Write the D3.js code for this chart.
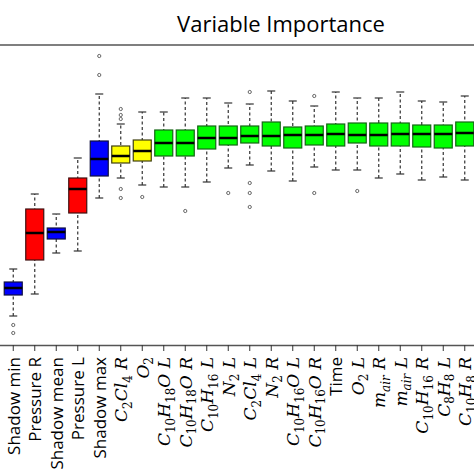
<!DOCTYPE html>
<html>
<head>
<meta charset="utf-8">
<script src="https://cdn.jsdelivr.net/npm/d3@7"></script>
<style>
  body { margin: 0; background: #fff; }
  .sans { font-family: "Open Sans", "Liberation Sans", sans-serif; }
  .math { font-family: "DejaVu Serif", "Liberation Serif", serif; font-style: italic; }
</style>
</head>
<body>
<svg id="chart" width="474" height="474"></svg>
<script>
// labels: "_x" or "_{xx}" marks a subscript; "$" prefix means math style
const labels = ["Shadow min", "Pressure R", "Shadow mean", "Pressure L", "Shadow max",
  "$C_2Cl_4 R", "$O_2", "$C_{10}H_{18}O L", "$C_{10}H_{18}O R", "$C_{10}H_{16} L",
  "$N_2 L", "$C_2Cl_4 L", "$N_2 R", "$C_{10}H_{16}O L", "$C_{10}H_{16}O R", "Time",
  "$O_2 L", "$m_{air} R", "$m_{air} L", "$C_{10}H_{16} R", "$C_8H_8 L", "$C_{10}H_8 R"];
const groups = ["shadow", "rejected", "shadow", "rejected", "shadow", "tentative", "tentative",
  "confirmed", "confirmed", "confirmed", "confirmed", "confirmed", "confirmed", "confirmed",
  "confirmed", "confirmed", "confirmed", "confirmed", "confirmed", "confirmed", "confirmed", "confirmed"];
// [lower whisker, q1, median, q3, upper whisker]
const stats = [
  [2.9, 5.0, 5.7, 6.3, 7.6], [5.1, 8.5, 11.2, 13.6, 15.1], [9.2, 10.6, 11.3, 11.7, 13.1],
  [9.4, 13.2, 15.6, 16.7, 18.7], [14.7, 16.9, 18.6, 20.4, 25.1], [16.7, 18.2, 18.9, 19.9, 22.1],
  [16.0, 18.4, 19.4, 20.5, 23.3], [15.8, 18.9, 20.2, 21.5, 23.3], [15.8, 18.9, 20.2, 21.5, 24.7],
  [16.3, 19.6, 20.7, 21.9, 24.7], [17.7, 20.0, 20.7, 21.9, 24.2], [18.0, 20.2, 20.9, 21.9, 24.1],
  [17.4, 19.9, 20.9, 22.3, 25.4], [16.4, 19.7, 21.0, 21.8, 24.4], [17.8, 20.0, 21.0, 21.9, 23.9],
  [17.5, 19.9, 21.1, 22.1, 25.3], [17.5, 20.2, 21.0, 22.2, 24.7], [16.7, 19.9, 21.0, 22.2, 24.7],
  [17.1, 19.9, 21.1, 22.2, 25.3], [16.5, 19.8, 21.1, 22.0, 24.4], [16.8, 19.7, 21.1, 22.0, 24.3],
  [16.5, 19.9, 21.2, 22.3, 24.9]];
const outliers = [[2.0, 1.2], [], [], [], [28.9, 27.0], [23.6, 23.0, 22.6, 15.6, 14.7], [14.8],
  [], [13.4], [], [15.2], [25.3, 16.2, 15.2, 13.8], [], [], [24.9, 15.2], [], [15.4], [], [], [], [], []];

const fill = {shadow: "#0000ff", rejected: "#ff0000", tentative: "#ffff00", confirmed: "#00ff00"};
const edge = {shadow: "#101040", rejected: "#401010", tentative: "#404010", confirmed: "#146614"};

const svg = d3.select("#chart");
const x = d3.scaleBand().domain(d3.range(labels.length)).range([2.5, 475.5]);
const y = d3.scaleLinear().domain([0, 30]).range([345, 45]);
const bw = 18;

svg.append("text").attr("class", "sans").attr("x", 281).attr("y", 32)
  .attr("text-anchor", "middle").attr("font-size", 22).text("Variable Importance");
svg.append("line").attr("x1", 0).attr("x2", 474).attr("y1", 45).attr("y2", 45)
  .attr("stroke", "#555").attr("stroke-width", 1.5);

const xAxis = svg.append("g").attr("transform", "translate(0,345)")
  .call(d3.axisBottom(x).tickSize(6).tickSizeOuter(0).tickFormat(""));
xAxis.select(".domain").attr("stroke", "#555").attr("stroke-width", 1.5).attr("d", "M0,0.5H474");
xAxis.selectAll(".tick line").attr("stroke", "#333");

const g = svg.append("g").selectAll("g").data(stats).join("g")
  .attr("transform", (d, i) => `translate(${x(i) + x.bandwidth() / 2},0)`);
g.append("line").attr("y1", d => y(d[0])).attr("y2", d => y(d[4]))
  .attr("stroke", "#333").attr("stroke-dasharray", "3,2.5").attr("stroke-width", 1.2);
g.selectAll(".cap").data(d => [d[0], d[4]]).join("line")
  .attr("x1", -4).attr("x2", 4).attr("y1", v => y(v)).attr("y2", v => y(v))
  .attr("stroke", "#333").attr("stroke-width", 1.2);
g.append("rect").attr("x", -bw / 2).attr("width", bw)
  .attr("y", d => y(d[3])).attr("height", d => y(d[1]) - y(d[3]))
  .attr("fill", (d, i) => fill[groups[i]]).attr("stroke", (d, i) => edge[groups[i]]).attr("stroke-width", 1.2);
g.append("line").attr("x1", -bw / 2).attr("x2", bw / 2)
  .attr("y1", d => y(d[2])).attr("y2", d => y(d[2])).attr("stroke", "#000").attr("stroke-width", 2.5);
g.selectAll("circle").data((d, i) => outliers[i]).join("circle")
  .attr("cy", v => y(v)).attr("r", 1.6).attr("fill", "none").attr("stroke", "#666").attr("stroke-width", 1);

// rotated labels
const lab = svg.append("g").selectAll("text").data(labels).join("text")
  .attr("transform", (d, i) => `translate(${x(i) + x.bandwidth() / 2 + 6.5},357) rotate(-90)`)
  .attr("text-anchor", "end").attr("font-size", 17)
  .attr("class", d => d.startsWith("$") ? "math" : "sans");
lab.each(function(d) {
  const t = d3.select(this);
  if (!d.startsWith("$")) { t.text(d); return; }
  const s = d.slice(1);
  const re = /_\{([^}]*)\}|_(.)|([^_]+)/g;
  let m;
  while ((m = re.exec(s))) {
    const sub = m[1] || m[2];
    if (sub) {
      const isNum = /^\d+$/.test(sub);
      t.append("tspan").attr("font-size", 12).attr("dy", 4.5).attr("font-style", isNum ? "normal" : "italic").text(sub);
      t.append("tspan").attr("font-size", 17).attr("dy", -4.5).text("\u200B");
    } else {
      t.append("tspan").text(m[3].replace(/ /g, "\u00A0"));
    }
  }
});
</script>
</body>
</html>
